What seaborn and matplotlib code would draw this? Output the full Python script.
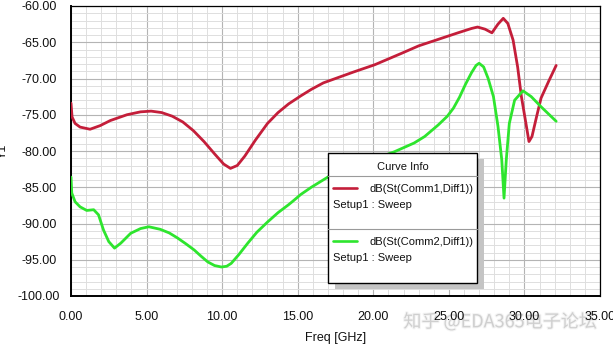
import matplotlib
matplotlib.use("Agg")
import matplotlib.pyplot as plt
import seaborn as sns
import pandas as pd
from matplotlib.ticker import MultipleLocator, FormatStrFormatter
from matplotlib.patches import Rectangle
from matplotlib.lines import Line2D
from matplotlib.transforms import Affine2D
import matplotlib.patheffects as pe

# ---- data ----
freq_comm1 = [0, 0.07, 0.27, 0.6, 1.26, 1.93, 2.6, 3.7, 4.6, 5.3, 6.0, 6.7, 7.4, 8.1, 8.8,
              9.5, 10.1, 10.55, 11.0, 11.5, 12.2, 13.0, 13.7, 14.4, 15.2, 15.9, 16.7, 17.5,
              18.7, 20.1, 21.0, 21.9, 23.0, 24.3, 25.6, 26.5, 26.9, 27.4, 27.85, 28.25, 28.6,
              28.9, 29.25, 29.55, 29.8, 30.1, 30.3, 30.5, 30.8, 31.1, 31.6, 32.1]
db_comm1 = [-73.4, -75.3, -76.2, -76.7, -77.0, -76.5, -75.8, -75.0, -74.6, -74.5, -74.7,
            -75.2, -76.0, -77.2, -78.7, -80.4, -81.8, -82.4, -82.0, -80.7, -78.5, -76.2,
            -74.7, -73.5, -72.4, -71.5, -70.6, -70.0, -69.1, -68.1, -67.3, -66.5, -65.5,
            -64.6, -63.7, -63.1, -62.9, -63.2, -63.7, -62.5, -61.7, -62.4, -64.7, -68.4,
            -72.5, -76.2, -78.7, -78.0, -75.3, -72.7, -70.4, -68.2]

freq_comm2 = [0, 0.05, 0.27, 0.6, 1.04, 1.5, 1.82, 2.15, 2.5, 2.88, 3.3, 3.95, 4.6, 5.15,
              5.9, 6.5, 7.05, 7.6, 8.15, 8.6, 9.05, 9.5, 9.95, 10.3, 10.6, 11.1, 11.7, 12.3,
              13.0, 13.7, 14.4, 14.75, 15.2, 15.9, 17.07, 19.2, 21.4, 22.7, 23.4, 24.3, 24.9,
              25.3, 25.7, 26.1, 26.5, 26.8, 27.0, 27.3, 27.6, 27.95, 28.25, 28.5, 28.65,
              28.8, 29.0, 29.35, 29.9, 30.45, 31.1, 32.1]
db_comm2 = [-83.6, -85.8, -87.0, -87.7, -88.2, -88.1, -88.8, -90.9, -92.5, -93.4, -92.7,
            -91.35, -90.7, -90.45, -90.8, -91.3, -92.0, -92.8, -93.65, -94.5, -95.3, -95.8,
            -96.0, -95.9, -95.5, -94.3, -92.7, -91.2, -89.8, -88.5, -87.4, -86.8, -86.0,
            -85.0, -83.5, -81.8, -80.1, -78.9, -78.0, -76.4, -75.2, -74.1, -72.6, -70.8,
            -69.2, -68.2, -67.9, -68.4, -70.0, -72.5, -76.6, -81.2, -86.5, -81.2, -76.2,
            -73.0, -71.7, -72.5, -73.9, -75.9]

series_names = ["dB(St(Comm1,Diff1))", "dB(St(Comm2,Diff1))"]
setup_label = "Setup1 : Sweep"
series_colors = ["#c41e3a", "#2ee52e"]
x_ticks = [0, 5, 10, 15, 20, 25, 30, 35]
y_ticks = [-100, -95, -90, -85, -80, -75, -70, -65, -60]

df = pd.concat([
    pd.DataFrame({"Freq": freq_comm1, "dB": db_comm1, "curve": series_names[0]}),
    pd.DataFrame({"Freq": freq_comm2, "dB": db_comm2, "curve": series_names[1]}),
], ignore_index=True)

sns.set_theme(style="white")
plt.rcParams["font.family"] = ["Liberation Sans", "DejaVu Sans"]

W, H = 613, 347
fig = plt.figure(figsize=(W / 100, H / 100), dpi=100)
fig.patch.set_facecolor("white")
ax = fig.add_axes([71 / W, 1 - 296 / H, (600 - 71) / W, (296 - 6) / H])
ax.set_facecolor("white")

sns.lineplot(data=df, x="Freq", y="dB", hue="curve", palette=series_colors,
             sort=False, estimator=None, linewidth=2.0, legend=False, ax=ax, zorder=3)
for ln in ax.get_lines():
    ln.set_solid_joinstyle("round")
    ln.set_solid_capstyle("round")

ax.set_xlim(0, 35)
ax.set_ylim(-100, -60)
ax.set_xticks(x_ticks)
ax.set_yticks(y_ticks)
ax.xaxis.set_major_formatter(FormatStrFormatter("%.2f"))
ax.yaxis.set_major_formatter(FormatStrFormatter("%.2f"))
ax.xaxis.set_minor_locator(MultipleLocator(1))
ax.yaxis.set_minor_locator(MultipleLocator(1))

ax.grid(which="major", color="#b4b4b4", linewidth=0.8, zorder=0)
ax.grid(which="minor", color="#dedede", linewidth=0.7, zorder=0)
ax.set_axisbelow(True)

for s in ax.spines.values():
    s.set_color("black")
    s.set_linewidth(0.9)
ax.spines["left"].set_linewidth(1.4)
ax.spines["bottom"].set_linewidth(1.4)

ax.tick_params(axis="both", which="both", direction="out", color="black", width=1,
               labelsize=9, labelcolor="#111111")
ax.tick_params(axis="y", which="major", length=6, pad=17)
ax.tick_params(axis="y", which="minor", length=3.5)
ax.tick_params(axis="x", which="major", length=4, pad=7)
ax.tick_params(axis="x", which="minor", length=3.5)
for lbl in ax.get_yticklabels():
    lbl.set_ha("center")

ax.set_xlabel("Freq [GHz]", fontsize=9, color="#111111")
ax.xaxis.set_label_coords(0.5, -(338 - 296) / 290)
ax.xaxis.label.set_va("center")
ax.set_ylabel("Y1", fontsize=9, color="#111111")
ax.yaxis.set_label_coords(-(71 - 3) / 529, 0.5)
ax.yaxis.label.set_va("center")

# ---- "Curve Info" box (pixel coordinates, y down) ----
pt = Affine2D().scale(1 / W, -1 / H).translate(0, 1) + fig.transFigure
bx0, bx1, by0, by1 = 328, 477, 153, 283
fig.add_artist(Rectangle((bx0 + 7, by0 + 6), bx1 - bx0, by1 - by0, transform=pt,
                         facecolor="#c4c4c4", edgecolor="none", zorder=10))
fig.add_artist(Rectangle((bx0, by0), bx1 - bx0, by1 - by0, transform=pt,
                         facecolor="white", edgecolor="black", linewidth=1, zorder=11))
fig.text(403, 167, "Curve Info", transform=pt, ha="center", va="center",
         fontsize=8, color="#111111", zorder=12)
for ysep in (176, 229):
    fig.add_artist(Line2D([bx0, bx1], [ysep, ysep], transform=pt, color="#9a9a9a",
                          linewidth=0.8, zorder=12))
for i, (name, col) in enumerate(zip(series_names, series_colors)):
    y0 = 188 + i * 53
    fig.add_artist(Line2D([333, 357], [y0, y0], transform=pt, color=col,
                          linewidth=1.9, zorder=12))
    fig.text(473, y0 + 1, name, transform=pt, ha="right", va="center",
             fontsize=8, color="#111111", zorder=12)
    fig.text(333, y0 + 17, setup_label, transform=pt, ha="left", va="center",
             fontsize=8, color="#111111", zorder=12)

# ---- watermark (behind the tick labels) ----
fig.text(500, 322, "知乎 @EDA365电子论坛", transform=pt, ha="center", va="center",
         fontsize=13, color="#cfcfcf", zorder=-1,
         family=["Noto Sans CJK SC", "DejaVu Sans"],
         path_effects=[pe.withStroke(linewidth=1.5, foreground="#f4f4f4")])

fig.savefig("out.png", dpi=100)
